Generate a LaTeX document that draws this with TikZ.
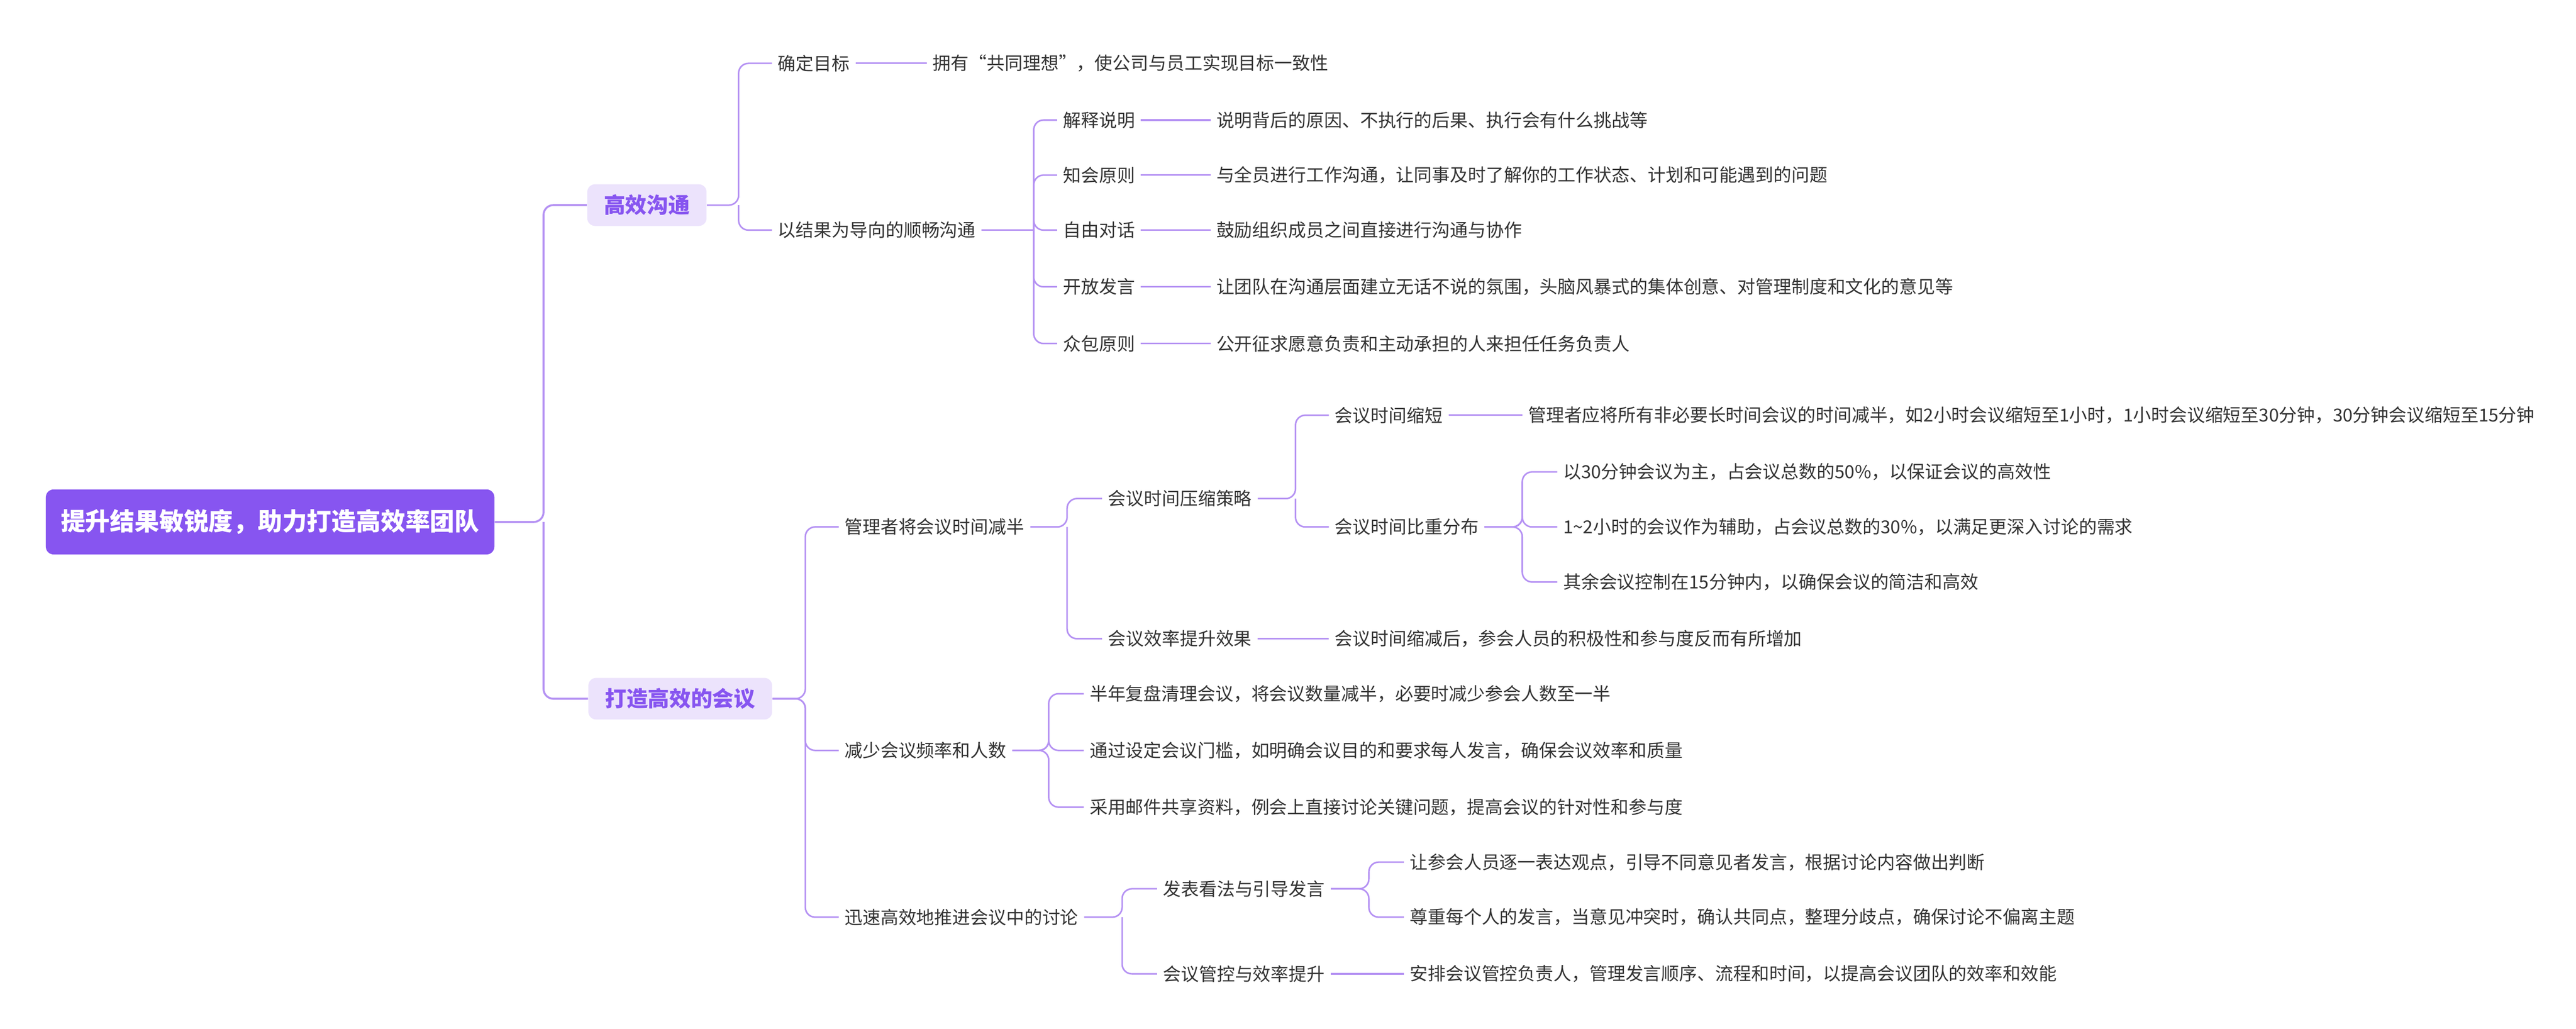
\documentclass[tikz,border=0pt]{standalone}
\usepackage{fontspec}
\setmainfont{Noto Sans CJK SC}
\usetikzlibrary{positioning, calc}
\definecolor{mainpurple}{HTML}{8755F0}
\definecolor{softpurple}{HTML}{ECE3FC}
\definecolor{linepurple}{HTML}{B592F3}
\definecolor{leaftext}{HTML}{333333}

\begin{document}
\begin{tikzpicture}[x=0.03cm, y=-0.03cm,
    rootbox/.style={fill=mainpurple, rounded corners=4pt, text=white, font=\fontsize{12.6}{15}\selectfont\bfseries, minimum width=8.07cm, minimum height=1.17cm},
    mainbox/.style={fill=softpurple, rounded corners=4pt, text=mainpurple, font=\fontsize{11}{13}\selectfont\bfseries, minimum height=0.75cm, inner xsep=0.3cm},
    leaf/.style={anchor=west, inner sep=0.1cm, text=leaftext, font=\fontsize{9.2}{11}\selectfont},
    link/.style={draw=linepurple, line width=0.8pt, rounded corners=5pt}]
    \useasboundingbox (0,0) rectangle (1545,617);

    % Root and main topics
    \node [rootbox] (root) at (162,313) {提升结果敏锐度，助力打造高效率团队};
    \node [mainbox] (comm) at (388,123) {高效沟通};
    \node [mainbox] (meet) at (408,419) {打造高效的会议};
    \coordinate (rootj) at (326,313);
    \draw [link, line width=1pt] (root.east) -- (rootj) |- (comm.west);
    \draw [link, line width=1pt] (rootj) |- (meet.west);

    % 高效沟通
    \node [leaf] (goal) at (463,38) {确定目标};
    \node [leaf] (goalx) at (556,38) {拥有“共同理想”，使公司与员工实现目标一致性};
    \node [leaf] (flow) at (463,138) {以结果为导向的顺畅沟通};
    \coordinate (commj) at (443,123);
    \draw [link] (comm.east) -- (commj) |- (goal.west);
    \draw [link] (commj) |- (flow.west);
    \draw [link] (goal.east) -- (goalx.west);

    \node [leaf] (f1) at (634,72) {解释说明};
    \node [leaf] (f2) at (634,105) {知会原则};
    \node [leaf] (f3) at (634,138) {自由对话};
    \node [leaf] (f4) at (634,172) {开放发言};
    \node [leaf] (f5) at (634,206) {众包原则};
    \node [leaf] (f1x) at (726,72) {说明背后的原因、不执行的后果、执行会有什么挑战等};
    \node [leaf] (f2x) at (726,105) {与全员进行工作沟通，让同事及时了解你的工作状态、计划和可能遇到的问题};
    \node [leaf] (f3x) at (726,138) {鼓励组织成员之间直接进行沟通与协作};
    \node [leaf] (f4x) at (726,172) {让团队在沟通层面建立无话不说的氛围，头脑风暴式的集体创意、对管理制度和文化的意见等};
    \node [leaf] (f5x) at (726,206) {公开征求愿意负责和主动承担的人来担任任务负责人};
    \coordinate (flowj) at (620,138);
    \draw [link] (flow.east) -- (flowj);
    \foreach \i in {1,...,5} {
        \draw [link] (flowj) |- (f\i.west);
        \draw [link] (f\i.east) -- (f\i x.west);
    }

    % 打造高效的会议
    \node [leaf] (half) at (503,316) {管理者将会议时间减半};
    \node [leaf] (less) at (503,450) {减少会议频率和人数};
    \node [leaf] (fast) at (503,550) {迅速高效地推进会议中的讨论};
    \coordinate (meetj) at (483,419);
    \foreach \n in {half,less,fast}
        \draw [link] (meet.east) -- (meetj) |- (\n.west);

    \node [leaf] (press) at (661,299) {会议时间压缩策略};
    \node [leaf] (effect) at (661,383) {会议效率提升效果};
    \node [leaf] (effectx) at (797,383) {会议时间缩减后，参会人员的积极性和参与度反而有所增加};
    \coordinate (halfj) at (640,316);
    \draw [link] (half.east) -- (halfj) |- (press.west);
    \draw [link] (halfj) |- (effect.west);
    \draw [link] (effect.east) -- (effectx.west);

    \node [leaf] (cut) at (797,249) {会议时间缩短};
    \node [leaf] (cutx) at (913,249) {管理者应将所有非必要长时间会议的时间减半，如2小时会议缩短至1小时，1小时会议缩短至30分钟，30分钟会议缩短至15分钟};
    \node [leaf] (share) at (797,316) {会议时间比重分布};
    \coordinate (pressj) at (777,299);
    \draw [link] (press.east) -- (pressj) |- (cut.west);
    \draw [link] (pressj) |- (share.west);
    \draw [link] (cut.east) -- (cutx.west);

    \node [leaf] (s1) at (934,283) {以30分钟会议为主，占会议总数的50\%，以保证会议的高效性};
    \node [leaf] (s2) at (934,316) {1\textasciitilde2小时的会议作为辅助，占会议总数的30\%，以满足更深入讨论的需求};
    \node [leaf] (s3) at (934,349) {其余会议控制在15分钟内，以确保会议的简洁和高效};
    \coordinate (sharej) at (913,316);
    \foreach \i in {1,2,3}
        \draw [link] (share.east) -- (sharej) |- (s\i.west);

    \node [leaf] (l1) at (650,416) {半年复盘清理会议，将会议数量减半，必要时减少参会人数至一半};
    \node [leaf] (l2) at (650,450) {通过设定会议门槛，如明确会议目的和要求每人发言，确保会议效率和质量};
    \node [leaf] (l3) at (650,484) {采用邮件共享资料，例会上直接讨论关键问题，提高会议的针对性和参与度};
    \coordinate (lessj) at (629,450);
    \foreach \i in {1,2,3}
        \draw [link] (less.east) -- (lessj) |- (l\i.west);

    \node [leaf] (view) at (694,533) {发表看法与引导发言};
    \node [leaf] (ctrl) at (694,584) {会议管控与效率提升};
    \node [leaf] (ctrlx) at (842,584) {安排会议管控负责人，管理发言顺序、流程和时间，以提高会议团队的效率和效能};
    \coordinate (fastj) at (673,550);
    \draw [link] (fast.east) -- (fastj) |- (view.west);
    \draw [link] (fastj) |- (ctrl.west);
    \draw [link] (ctrl.east) -- (ctrlx.west);

    \node [leaf] (v1) at (842,517) {让参会人员逐一表达观点，引导不同意见者发言，根据讨论内容做出判断};
    \node [leaf] (v2) at (842,550) {尊重每个人的发言，当意见冲突时，确认共同点，整理分歧点，确保讨论不偏离主题};
    \coordinate (viewj) at (821,533);
    \foreach \i in {1,2}
        \draw [link] (view.east) -- (viewj) |- (v\i.west);
\end{tikzpicture}
\end{document}
